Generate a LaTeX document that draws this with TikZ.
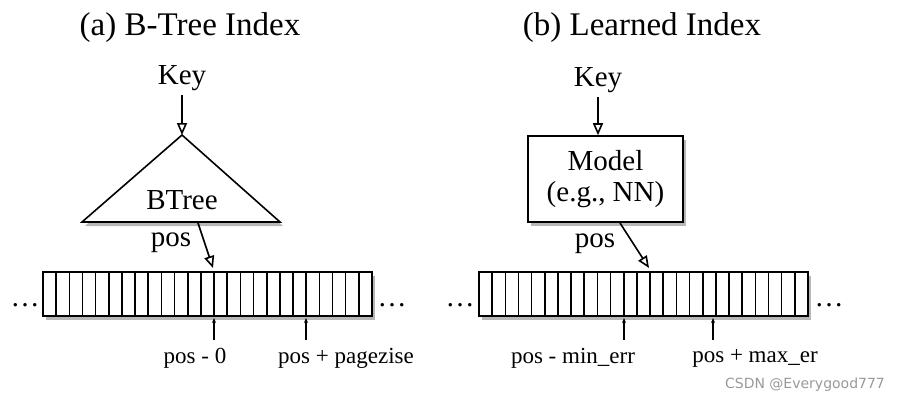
\documentclass[tikz,border=0pt]{standalone}
\usepackage{fontspec}
\setmainfont{Liberation Serif}
\usetikzlibrary{arrows.meta,shadows}
\begin{document}
\begin{tikzpicture}[x=1pt,y=-1pt,line width=1.6pt,
  open/.style={-{Triangle[open,length=12pt,width=10pt]},line width=1.6pt},
  small/.style={-{Stealth[length=5pt,width=4pt]},line width=1.6pt},
  shad/.style={drop shadow={shadow xshift=3pt,shadow yshift=-4pt,opacity=0.4,fill=black!70}},
  ttl/.style={font=\fontsize{33}{35}\selectfont},
  big/.style={font=\fontsize{29}{31}\selectfont},
  lbl/.style={font=\fontsize{23}{25}\selectfont}]
\useasboundingbox (0,0) rectangle (897,405);
% (a)
\node[ttl] (ta) at (190,28) {(a) B-Tree Index};
\node[big] (ka) at (182,78) {Key};
\draw[fill=white,shad] (182,135) -- (280,222) -- (82,222) -- cycle;
\coordinate (tri) at (182,135);
\node[big] (bt) at (182,200) {BTree};
\draw[open] (ka.south) -- (tri);
\node[big] (pa) at (171,243) {pos};
\coordinate (pa1) at (198,223);
\coordinate (pa2) at (213,268);
\draw[open] (pa1) -- (pa2);
\draw[fill=white,shad] (43,272) rectangle (372,316);
\foreach \i in {1,...,24} \draw ({43+\i*329/25},272) -- ({43+\i*329/25},316);
\node[big] (da) at (25,305) {\dots};
\node[big] (db) at (392,305) {\dots};
\node[lbl] (la) at (195,358) {pos - 0};
\node[lbl] (lb) at (346,358) {pos + pagezise};
\draw[small] (214,340) -- (214,318);
\draw[small] (306,340) -- (306,318);
% (b)
\node[ttl] (tb) at (642,28) {(b) Learned Index};
\node[big] (kb) at (598,80) {Key};
\node[draw,fill=white,shad,minimum width=155pt,minimum height=86pt,align=center,big,inner sep=0pt] (m) at (605.5,179) {Model\\[0pt](e.g., NN)};
\draw[open] (kb.south) -- (m.north -| kb);
\node[big] (pb) at (595,244) {pos};
\coordinate (pb1) at (620,223);
\coordinate (pb2) at (649,268);
\draw[open] (pb1) -- (pb2);
\draw[fill=white,shad] (479,272) rectangle (808,316);
\foreach \i in {1,...,24} \draw ({479+\i*329/25},272) -- ({479+\i*329/25},316);
\node[big] (dc) at (460,305) {\dots};
\node[big] (dd) at (829,305) {\dots};
\node[lbl] (lc) at (573,358) {pos - min\_err};
\node[lbl] (ld) at (755,358) {pos + max\_er};
\draw[small] (624,340) -- (624,318);
\draw[small] (713,340) -- (713,318);
\node[font=\fontspec{DejaVu Sans}\fontsize{14}{16}\selectfont,text=black!40] (w) at (805,385) {CSDN @Everygood777};
\end{tikzpicture}
\end{document}
